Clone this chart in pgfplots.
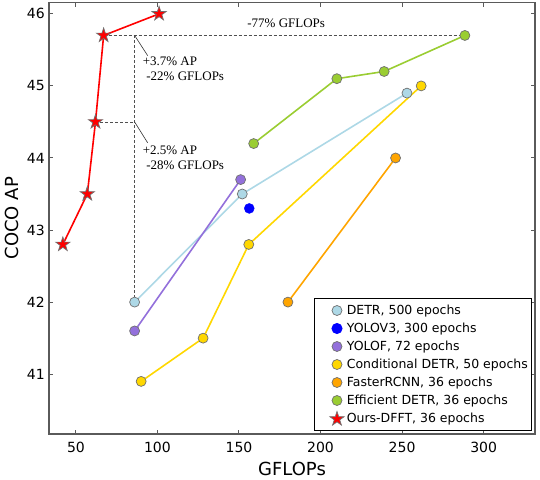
\documentclass[border=0pt]{standalone}
\usepackage{fontspec}
\setmainfont{DejaVu Sans}
\newfontfamily\annfont{Liberation Serif}
\usepackage{pgfplots}
\pgfplotsset{compat=1.18}
\usetikzlibrary{calc}

\definecolor{detr}{HTML}{ADD8E6}
\definecolor{yolov}{HTML}{0000FF}
\definecolor{yolof}{HTML}{9370DB}
\definecolor{cond}{HTML}{FFD700}
\definecolor{frcnn}{HTML}{FFA500}
\definecolor{eff}{HTML}{9ACD32}
\definecolor{ours}{HTML}{FF0000}
\definecolor{edgec}{HTML}{707070}
\definecolor{framec}{HTML}{5A5A5A}
\definecolor{dashc}{HTML}{505050}

\pgfdeclareplotmark{fstar}{%
  \pgfpathmoveto{\pgfqpoint{0pt}{\pgfplotmarksize}}%
  \pgfpathlineto{\pgfqpoint{-0.2245\pgfplotmarksize}{0.309\pgfplotmarksize}}%
  \pgfpathlineto{\pgfqpoint{-0.951\pgfplotmarksize}{0.309\pgfplotmarksize}}%
  \pgfpathlineto{\pgfqpoint{-0.3633\pgfplotmarksize}{-0.118\pgfplotmarksize}}%
  \pgfpathlineto{\pgfqpoint{-0.588\pgfplotmarksize}{-0.809\pgfplotmarksize}}%
  \pgfpathlineto{\pgfqpoint{0pt}{-0.382\pgfplotmarksize}}%
  \pgfpathlineto{\pgfqpoint{0.588\pgfplotmarksize}{-0.809\pgfplotmarksize}}%
  \pgfpathlineto{\pgfqpoint{0.3633\pgfplotmarksize}{-0.118\pgfplotmarksize}}%
  \pgfpathlineto{\pgfqpoint{0.951\pgfplotmarksize}{0.309\pgfplotmarksize}}%
  \pgfpathlineto{\pgfqpoint{0.2245\pgfplotmarksize}{0.309\pgfplotmarksize}}%
  \pgfpathclose
  \pgfusepathqfillstroke
}

\pgfplotsset{
  series/.style={color=#1, line width=1.6pt, mark=*, mark size=5pt,
    mark options={fill=#1, draw=edgec, line width=0.7pt, solid}},
  helper/.style={dashc, line width=0.7pt, dash pattern=on 3pt off 2pt, forget plot, no marks},
  leader/.style={black!80, line width=0.6pt, forget plot, no marks},
}

\begin{document}
\begin{tikzpicture}
\begin{axis}[
  scale only axis,
  width=486pt, height=431.7pt,
  xmin=33.5, xmax=331.5, ymin=40.17, ymax=46.16,
  xtick={50,100,150,200,250,300},
  ytick={41,42,43,44,45,46},
  minor tick num=0,
  tick align=inside,
  major tick length=4.5pt,
  axis line style={framec, line width=1.2pt},
  tick style={framec, line width=1pt},
  tick label style={font=\fontsize{14}{16}\selectfont, inner sep=0pt},
  /pgf/number format/assume math mode=true,
  xticklabel style={anchor=north},
  yticklabel style={anchor=east},
  xticklabel shift=8pt,
  yticklabel shift=4pt,
  xlabel={GFLOPs}, ylabel={COCO AP},
  every axis x label/.style={at={(axis description cs:0.5,-0.082)}, anchor=center, font=\fontsize{18}{20}\selectfont},
  every axis y label/.style={at={(axis description cs:-0.076,0.5)}, rotate=90, anchor=center, font=\fontsize{18}{20}\selectfont},
  legend image code/.code={\path (-19pt,0pt) (8pt,0pt); \draw[#1] plot[only marks] coordinates {(0pt,0pt)};},
  legend cell align=left,
  legend style={at={(rel axis cs:1,0)}, anchor=south east, xshift=-2.7pt, yshift=3pt,
    draw=black, line width=1pt, fill=white,
    font=\fontsize{12.5}{14}\selectfont,
    inner xsep=3pt, inner ysep=4.5pt, row sep=4pt,
    nodes={inner sep=1pt, text height=9.5pt, text depth=2.5pt}},
  clip=false,
]
% helper dashed lines
\addplot[helper] coordinates {(67,45.7) (288.5,45.7)};
\addplot[helper] coordinates {(86,45.7) (86,42.0)};
\addplot[helper] coordinates {(62,44.5) (86,44.5)};
\addplot[leader] coordinates {(86,45.7) (94,45.42)};
\addplot[leader] coordinates {(86,44.5) (94,44.21)};

\addplot[series=detr] coordinates {(86,42.0) (152,43.5) (253,44.9)};
\addlegendentry{DETR, 500 epochs}
\addplot[color=yolov, only marks, mark=*, mark size=5pt, mark options={fill=yolov, draw=yolov}] coordinates {(156.3,43.3)};
\addlegendentry{YOLOV3, 300 epochs}
\addplot[series=yolof] coordinates {(86,41.6) (151,43.7)};
\addlegendentry{YOLOF, 72 epochs}
\addplot[series=cond] coordinates {(90,40.9) (128,41.5) (156,42.8) (261.7,45.0)};
\addlegendentry{Conditional DETR, 50 epochs}
\addplot[series=frcnn] coordinates {(180,42.0) (246,44.0)};
\addlegendentry{FasterRCNN, 36 epochs}
\addplot[series=eff] coordinates {(159,44.2) (210,45.1) (239,45.2) (288.5,45.7)};
\addlegendentry{Efficient DETR, 36 epochs}
\addplot[color=ours, line width=1.6pt, mark=fstar, mark size=7.5pt,
  mark options={fill=ours, draw=edgec, line width=0.7pt, solid}]
  coordinates {(42,42.8) (57,43.5) (62,44.5) (67,45.7) (101,46.0)};
\addlegendentry{Ours-DFFT, 36 epochs}

\node[anchor=base west, font=\annfont\fontsize{13}{15}\selectfont, inner sep=0pt] at (axis cs:155,45.806) {-77\% GFLOPs};
\node[anchor=base west, font=\annfont\fontsize{13}{15}\selectfont, inner sep=0pt] at (axis cs:90.9,45.278) {+3.7\% AP};
\node[anchor=base west, font=\annfont\fontsize{13}{15}\selectfont, inner sep=0pt] at (axis cs:93.1,45.07) {-22\% GFLOPs};
\node[anchor=base west, font=\annfont\fontsize{13}{15}\selectfont, inner sep=0pt] at (axis cs:90.9,44.05) {+2.5\% AP};
\node[anchor=base west, font=\annfont\fontsize{13}{15}\selectfont, inner sep=0pt] at (axis cs:93.1,43.84) {-28\% GFLOPs};

\coordinate (sw) at (rel axis cs:0,0);
\coordinate (ne) at (rel axis cs:1,1);
\end{axis}
\pgfresetboundingbox
\path[use as bounding box] ($(sw)+(-49pt,-45pt)$) rectangle ($(ne)+(5pt,2.3pt)$);
\end{tikzpicture}
\end{document}
